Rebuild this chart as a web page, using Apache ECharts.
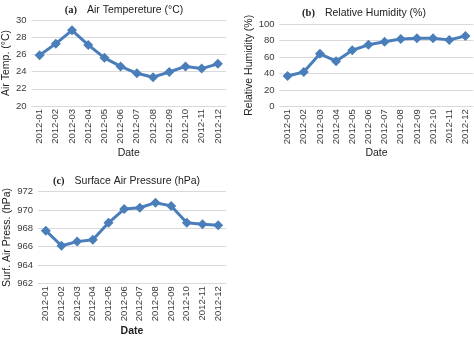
<!DOCTYPE html>
<html>
<head>
<meta charset="utf-8">
<script src="https://cdn.jsdelivr.net/npm/echarts@6/dist/echarts.min.js"></script>
<style>
  html, body { margin: 0; padding: 0; background: #fff; }
  #chart { width: 474px; height: 338px; }
</style>
</head>
<body>
<div id="chart"></div>
<script>
// Monthly station observations, 2012
const months = ['2012-01', '2012-02', '2012-03', '2012-04', '2012-05', '2012-06',
                '2012-07', '2012-08', '2012-09', '2012-10', '2012-11', '2012-12'];
const airTemp = [25.9, 27.25, 28.8, 27.1, 25.6, 24.6, 23.8, 23.35, 23.95, 24.6, 24.35, 24.9];
const humidity = [37, 41.8, 64, 55, 68.3, 75, 78.8, 82, 82.9, 82.9, 81, 85.7];
const pressure = [967.75, 966.1, 966.55, 966.75, 968.6, 970.1, 970.25, 970.8, 970.45, 968.6, 968.45, 968.35];

const tempTicks = { min: 20, max: 30, interval: 2 };
const humTicks = { min: 0, max: 100, interval: 20 };
const presTicks = { min: 962, max: 972, interval: 2 };

const blue = '#4a7ebb';
const font = "'Liberation Sans', Arial, sans-serif";
const tickText = { color: '#3a3a3a', fontSize: 9.5, fontFamily: font };

function titleFor(tag, text, left, top) {
  return {
    text: '{t|' + tag + '}  {n|' + text + '}',
    left: left, top: top, textAlign: 'center', padding: 0,
    textStyle: {
      fontWeight: 'normal',
      rich: {
        t: { fontFamily: "'Liberation Serif', serif", fontWeight: 'bold', fontSize: 10.5, color: '#222' },
        n: { fontFamily: font, fontWeight: 'normal', fontSize: 10.5, color: '#222' }
      }
    }
  };
}

function xAxisFor(gridIndex, nameBold, gap) {
  return {
    type: 'category', gridIndex: gridIndex, data: months, boundaryGap: true,
    axisLine: { show: false }, axisTick: { show: false },
    axisLabel: Object.assign({ rotate: 90, margin: 3, interval: 0 }, tickText),
    name: 'Date', nameLocation: 'middle', nameGap: gap, nameMoveOverlap: false,
    nameTextStyle: { fontFamily: font, fontSize: 10.5, color: '#222', fontWeight: nameBold ? 'bold' : 'normal' }
  };
}

function yAxisFor(gridIndex, ticks, name, gap) {
  return {
    type: 'value', gridIndex: gridIndex,
    min: ticks.min, max: ticks.max, interval: ticks.interval,
    axisLine: { show: false }, axisTick: { show: false },
    axisLabel: Object.assign({ margin: 5 }, tickText),
    splitLine: { show: true, lineStyle: { color: '#d9d9d9', width: 1 } },
    name: name, nameLocation: 'middle', nameGap: gap, nameMoveOverlap: false,
    nameTextStyle: { fontFamily: font, fontSize: 10.5, color: '#222' }
  };
}

function seriesFor(idx, values) {
  return {
    type: 'line', xAxisIndex: idx, yAxisIndex: idx, data: values,
    symbol: 'diamond', symbolSize: 10,
    lineStyle: { color: blue, width: 3 },
    itemStyle: { color: blue },
    animation: false
  };
}

const chart = echarts.init(document.getElementById('chart'), null, { renderer: 'canvas' });
chart.setOption({
  backgroundColor: '#fff',
  title: [
    titleFor('(a)', 'Air Tempereture (°C)', 124, 1.5),
    titleFor('(b)', 'Relative Humidity (%)', 364, 4.5),
    titleFor('(c)', 'Surface Air Pressure (hPa)', 126.5, 172)
  ],
  grid: [
    { left: 31, top: 20, width: 195, height: 86 },
    { left: 279.5, top: 24.3, width: 194, height: 82 },
    { left: 38, top: 191.7, width: 188, height: 91.6 }
  ],
  xAxis: [xAxisFor(0, false, 41.5), xAxisFor(1, false, 41.5), xAxisFor(2, true, 42)],
  yAxis: [
    yAxisFor(0, tempTicks, 'Air Temp. (°C)', 19.5),
    yAxisFor(1, humTicks, 'Relative Humidity (%)', 25),
    yAxisFor(2, presTicks, 'Surf. Air Press. (hPa)', 25.5)
  ],
  series: [seriesFor(0, airTemp), seriesFor(1, humidity), seriesFor(2, pressure)]
});
</script>
</body>
</html>
